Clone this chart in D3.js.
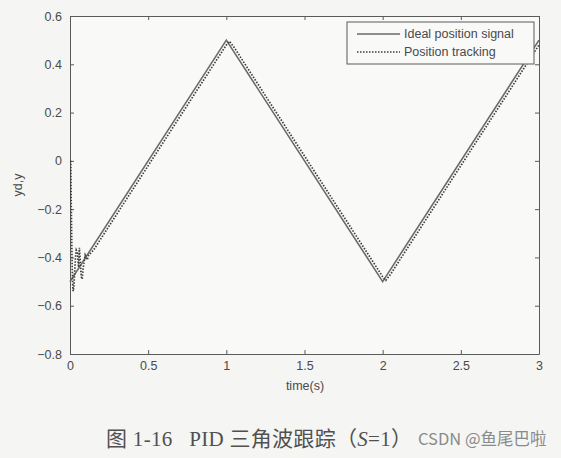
<!DOCTYPE html>
<html>
<head>
<meta charset="utf-8">
<script src="https://cdnjs.cloudflare.com/ajax/libs/d3/7.8.5/d3.min.js"></script>
<style>
  body { margin: 0; background: #f5f5f3; }
  svg { display: block; }
  .axis text { font-family: "Liberation Sans", Arial, sans-serif; font-size: 12.5px; fill: #4a4a4a; }
  .axis path, .axis line { stroke: #5a5a5a; stroke-width: 1; }
  .lbl { font-family: "Liberation Sans", Arial, sans-serif; font-size: 12.5px; fill: #4a4a4a; }
</style>
</head>
<body>
<script>
(function(){
//chart data
var idealTime = [0, 1, 2, 3];
var idealPos = [-0.5, 0.5, -0.5, 0.5];

var trackTime = [0.005, 0.008, 0.011, 0.014, 0.017, 0.02, 0.025, 0.03, 0.035, 0.04, 0.047, 0.055, 0.06, 0.066, 0.072, 0.078, 0.083, 0.09, 0.097, 0.104, 0.11, 0.12, 0.15, 0.2, 0.5, 1.0, 1.02, 1.05, 1.5, 2.0, 2.02, 2.05, 2.5, 3.0];
var trackPos = [0.0, -0.18, -0.33, -0.44, -0.51, -0.54, -0.52, -0.46, -0.4, -0.37, -0.38, -0.44, -0.36, -0.42, -0.48, -0.49, -0.45, -0.42, -0.39, -0.4, -0.41, -0.39, -0.37, -0.32, -0.02, 0.48, 0.495, 0.47, 0.02, -0.48, -0.495, -0.47, -0.02, 0.48];

var xTicks = [0, 0.5, 1, 1.5, 2, 2.5, 3];
var yTicks = [-0.8, -0.6, -0.4, -0.2, 0, 0.2, 0.4, 0.6];
var legendNames = ["Ideal position signal", "Position tracking"];

var width = 561, height = 458;
var left = 70, right = 539, top = 16, bottom = 354;

var svg = d3.select("body").append("svg")
    .attr("width", width)
    .attr("height", height);

var x = d3.scaleLinear().domain([0, 3]).range([left, right]);
var y = d3.scaleLinear().domain([-0.8, 0.6]).range([bottom, top]);

//plot background
svg.append("rect")
    .attr("x", left).attr("y", top)
    .attr("width", right - left).attr("height", bottom - top)
    .attr("fill", "#f9f9f8");

//axes with inward ticks
svg.append("g").attr("class", "axis")
    .attr("transform", "translate(0," + bottom + ")")
    .call(d3.axisBottom(x).tickValues(xTicks).tickFormat(d3.format("")).tickSizeInner(-4).tickSizeOuter(0).tickPadding(7));
svg.append("g").attr("class", "axis")
    .attr("transform", "translate(" + left + ",0)")
    .call(d3.axisLeft(y).tickValues(yTicks).tickFormat(function(d){ return d3.format("")(+d.toFixed(1)); }).tickSizeInner(-4).tickSizeOuter(0).tickPadding(8));
svg.append("g").attr("class", "axis")
    .attr("transform", "translate(0," + top + ")")
    .call(d3.axisTop(x).tickValues(xTicks).tickFormat("").tickSizeInner(-4).tickSizeOuter(0));
svg.append("g").attr("class", "axis")
    .attr("transform", "translate(" + right + ",0)")
    .call(d3.axisRight(y).tickValues(yTicks).tickFormat("").tickSizeInner(-4).tickSizeOuter(0));

//lines
var line = d3.line()
    .x(function(d){ return x(d[0]); })
    .y(function(d){ return y(d[1]); });

svg.append("path")
    .datum(d3.zip(idealTime, idealPos))
    .attr("d", line)
    .attr("fill", "none")
    .attr("stroke", "#6a6a6a")
    .attr("stroke-width", 1.6);

svg.append("path")
    .datum(d3.zip(trackTime, trackPos))
    .attr("d", line)
    .attr("fill", "none")
    .attr("stroke", "#3c3c3c")
    .attr("stroke-width", 1.7)
    .attr("stroke-dasharray", "1.5,1.5");

//legend
var lg = svg.append("g");
lg.append("rect")
    .attr("x", 347).attr("y", 22)
    .attr("width", 187).attr("height", 42)
    .attr("fill", "#f9f9f8")
    .attr("stroke", "#5a5a5a");
legendNames.forEach(function(name, i){
    var ly = 34 + i * 18;
    lg.append("line")
        .attr("x1", 357).attr("x2", 400)
        .attr("y1", ly).attr("y2", ly)
        .attr("stroke", i == 0 ? "#6a6a6a" : "#3c3c3c")
        .attr("stroke-width", 1.6)
        .attr("stroke-dasharray", i == 0 ? null : "1.5,1.5");
    lg.append("text")
        .attr("class", "lbl")
        .attr("x", 404).attr("y", ly + 4)
        .text(name);
});

//axis titles
svg.append("text")
    .attr("class", "lbl")
    .attr("text-anchor", "middle")
    .attr("x", 305).attr("y", 390)
    .text("time(s)");
svg.append("text")
    .attr("class", "lbl")
    .attr("text-anchor", "middle")
    .attr("transform", "translate(22,185) rotate(-90)")
    .text("yd,y");

//figure caption and watermark (kept side by side)
var cap = svg.append("text")
    .attr("x", 106).attr("y", 446)
    .attr("font-family", "'Liberation Serif', 'Noto Sans CJK SC', serif")
    .attr("font-size", 21)
    .attr("textLength", 306)
    .attr("lengthAdjust", "spacing")
    .attr("fill", "#505050");
cap.append("tspan").text("图 1-16\u00a0\u00a0\u00a0PID 三角波跟踪（");
cap.append("tspan").attr("font-style", "italic").text("S");
cap.append("tspan").text("=1）");

svg.append("text")
    .attr("x", 418).attr("y", 445)
    .attr("font-family", "'Noto Sans CJK SC', sans-serif")
    .attr("font-size", 16.5)
    .attr("fill", "#8a8a8a")
    .text("CSDN @鱼尾巴啦");
})();
</script>
</body>
</html>
